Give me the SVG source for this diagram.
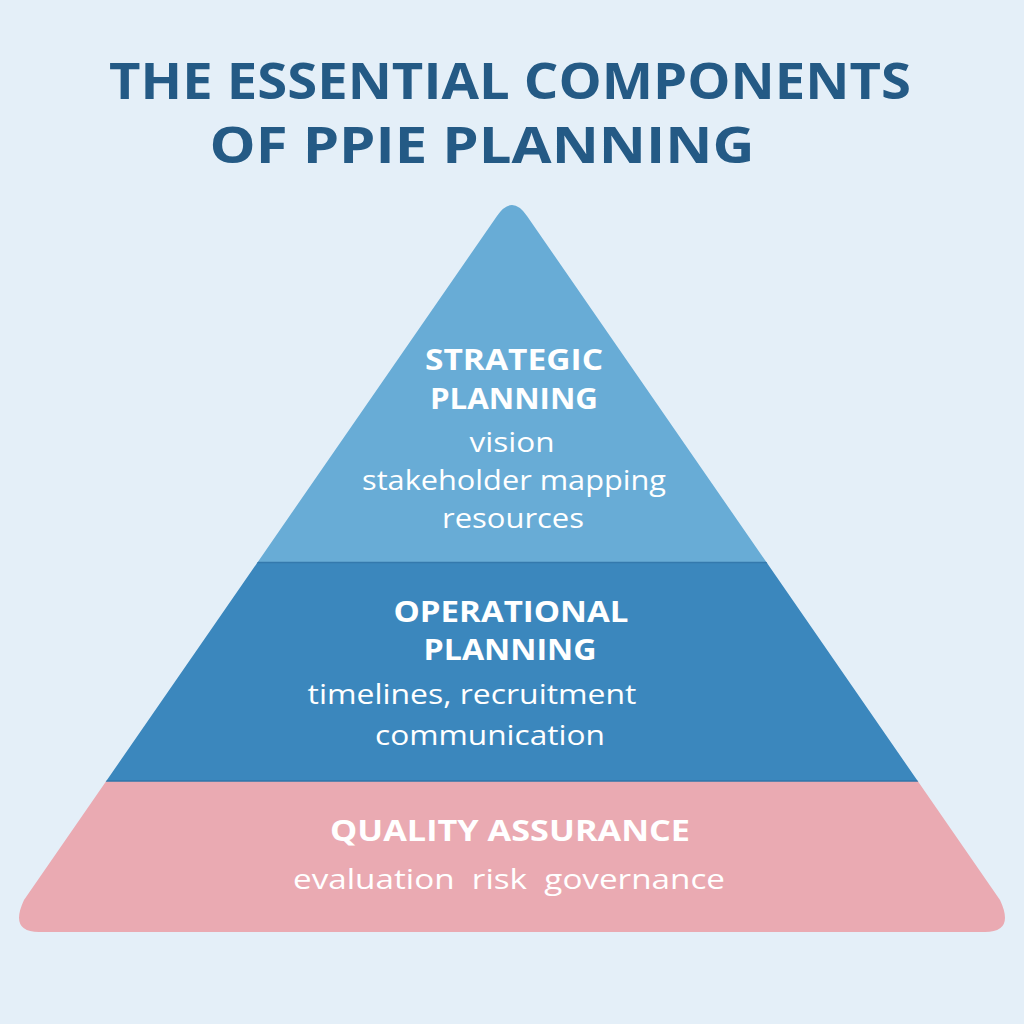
<svg xmlns="http://www.w3.org/2000/svg" width="1024" height="1024" viewBox="0 0 1024 1024">
<defs>
<style>
.title{font-family:"Open Sans","DejaVu Sans",sans-serif;font-weight:700;font-size:50px;fill:#245a85;text-anchor:middle}
.head{font-family:"Open Sans","DejaVu Sans",sans-serif;font-weight:700;font-size:28px;fill:#ffffff;text-anchor:middle}
.item{font-family:"Open Sans","DejaVu Sans",sans-serif;font-weight:400;font-size:28px;fill:#ffffff;text-anchor:middle}
</style>
<clipPath id="tri">
<path d="M497,216 Q512,194 527,216 L1000,900 Q1015,932 985,932 L39,932 Q9,932 24,900 Z"/>
</clipPath>
</defs>
<rect width="1024" height="1024" fill="#e4eff8"/>
<g id="title">
<text class="title" x="510" y="99" textLength="802" lengthAdjust="spacingAndGlyphs">THE ESSENTIAL COMPONENTS</text>
<text class="title" x="482" y="163" textLength="545" lengthAdjust="spacingAndGlyphs">OF PPIE PLANNING</text>
</g>
<g clip-path="url(#tri)">
<g id="strategic">
<rect x="0" y="190" width="1024" height="372" fill="#68acd6"/>
</g>
<g id="operational">
<rect x="0" y="562" width="1024" height="219" fill="#3b87bd"/>
<line x1="0" y1="562.5" x2="1024" y2="562.5" stroke="#3479ad" stroke-width="1.5"/>
</g>
<g id="quality">
<rect x="0" y="781" width="1024" height="160" fill="#eaaab2"/>
<line x1="0" y1="781" x2="1024" y2="781" stroke="#3075a8" stroke-width="1.5"/>
</g>
</g>
<g id="strategic-text">
<text class="head" x="514" y="370" textLength="178" lengthAdjust="spacingAndGlyphs">STRATEGIC</text>
<text class="head" x="514" y="409" textLength="168" lengthAdjust="spacingAndGlyphs">PLANNING</text>
<text class="item" x="512" y="452" textLength="85" lengthAdjust="spacingAndGlyphs">vision</text>
<text class="item" x="514" y="490" textLength="304" lengthAdjust="spacingAndGlyphs">stakeholder mapping</text>
<text class="item" x="513" y="528" textLength="142" lengthAdjust="spacingAndGlyphs">resources</text>
</g>
<g id="operational-text">
<text class="head" x="511" y="622" textLength="235" lengthAdjust="spacingAndGlyphs">OPERATIONAL</text>
<text class="head" x="510" y="660" textLength="173" lengthAdjust="spacingAndGlyphs">PLANNING</text>
<text class="item" x="472" y="704" textLength="329" lengthAdjust="spacingAndGlyphs">timelines, recruitment</text>
<text class="item" x="490" y="745" textLength="230" lengthAdjust="spacingAndGlyphs">communication</text>
</g>
<g id="quality-text">
<text class="head" x="510" y="841" textLength="360" lengthAdjust="spacingAndGlyphs">QUALITY ASSURANCE</text>
<text class="item" x="509" y="889" textLength="432" lengthAdjust="spacingAndGlyphs" xml:space="preserve">evaluation  risk  governance</text>
</g>
</svg>
